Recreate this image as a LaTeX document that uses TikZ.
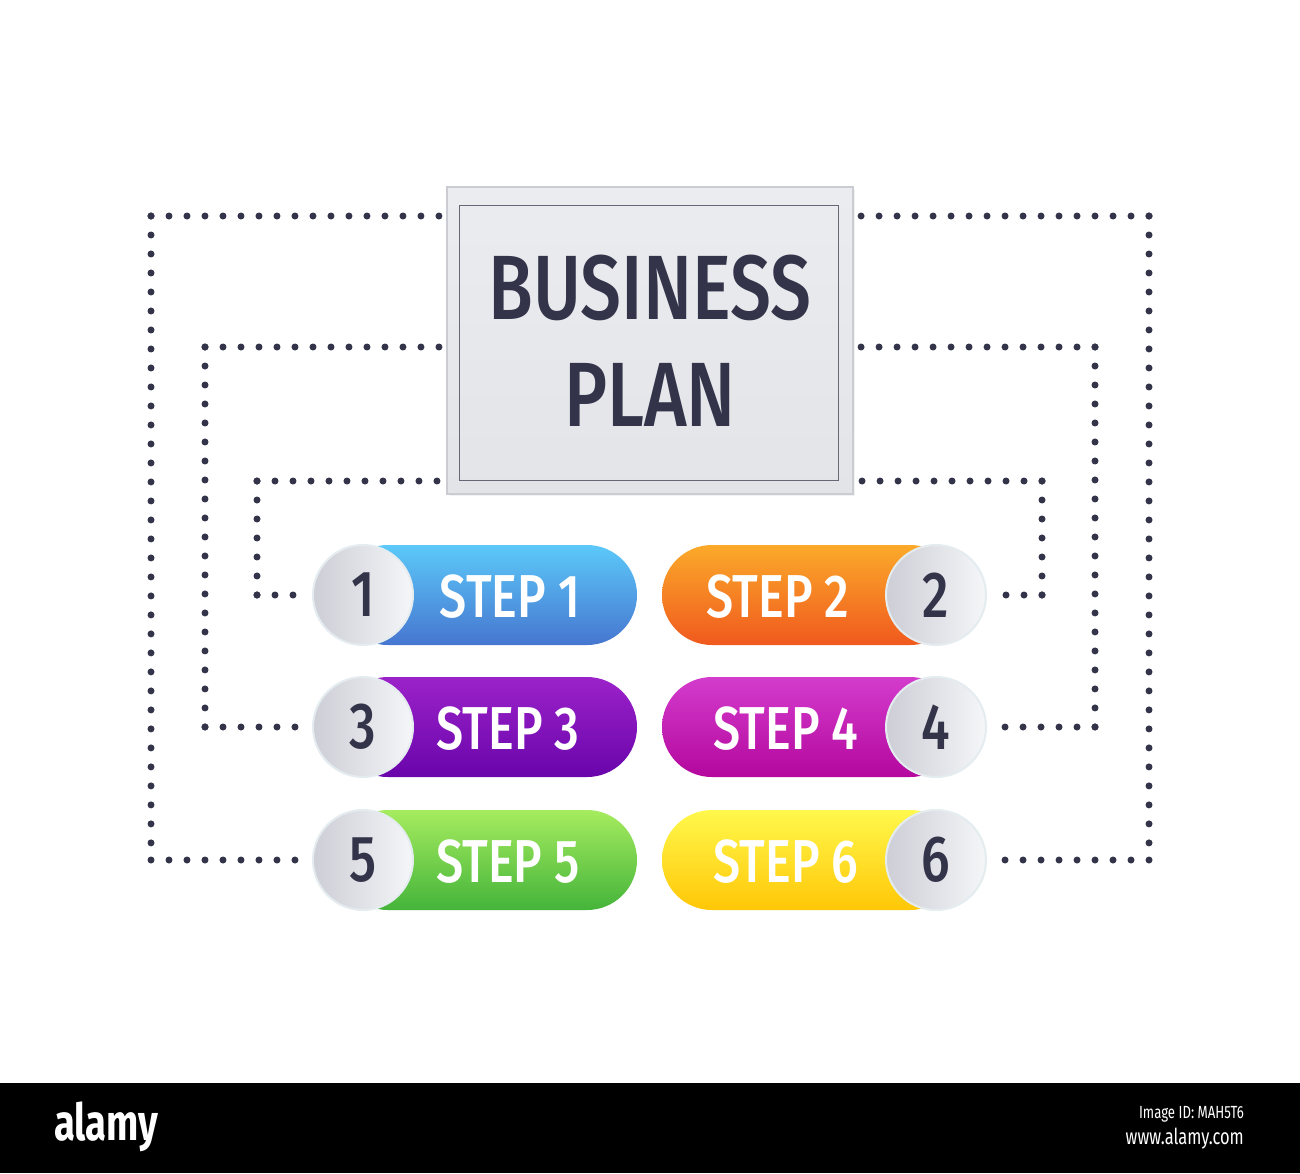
\documentclass[tikz,border=0pt]{standalone}
\usepackage{fontspec}
\usepackage{tikz}
\usetikzlibrary{shadows}
\newfontfamily\planfont{Fira Sans Medium}[FakeStretch=0.8]
\newfontfamily\markfont{Fira Sans}[FakeStretch=0.75]
\definecolor{ink}{HTML}{33344A}
\definecolor{boxtop}{HTML}{EBECEF}
\definecolor{boxbot}{HTML}{E3E4E8}
\definecolor{boxedge}{HTML}{CBCCD1}
\definecolor{discdark}{HTML}{CDCED6}
\definecolor{disclight}{HTML}{F5F6F8}
\definecolor{discrim}{HTML}{E4ECF0}
\definecolor{blueT}{HTML}{5CC9F9}
\definecolor{blueB}{HTML}{4676D0}
\definecolor{orangeT}{HTML}{FBAA2A}
\definecolor{orangeB}{HTML}{F0591E}
\definecolor{purpleT}{HTML}{9C22C9}
\definecolor{purpleB}{HTML}{6905AB}
\definecolor{pinkT}{HTML}{D33CCC}
\definecolor{pinkB}{HTML}{B4079E}
\definecolor{greenT}{HTML}{A6EC5F}
\definecolor{greenB}{HTML}{44B43A}
\definecolor{yellowT}{HTML}{FFF84C}
\definecolor{yellowB}{HTML}{FFC707}

\begin{document}
\begin{tikzpicture}[x=0.02cm,y=-0.02cm,
	hdots/.style={ink,line width=0.14cm,line cap=round,dash pattern=on 0pt off 0.36cm},
	vdots/.style={ink,line width=0.14cm,line cap=round,dash pattern=on 0pt off 0.38cm},
	pill/.style={rounded corners=1cm},
	disc/.style={circle,minimum size=2cm,inner sep=0pt,left color=discdark,right color=disclight,
		draw=discrim,line width=0.04cm,text=ink,font=\planfont\fontsize{37}{37}\selectfont},
	steptext/.style={text=white,font=\planfont\fontsize{34.5}{34.5}\selectfont}]
	\useasboundingbox (0,0) rectangle (1300,1173);
	\fill[white] (0,0) rectangle (1300,1083);

	\node[draw=boxedge,line width=0.03cm,top color=boxtop,bottom color=boxbot,
		minimum width=8.12cm,minimum height=6.14cm,inner sep=0pt,align=center,text=ink,
		font=\planfont\fontsize{52}{61}\selectfont,
		drop shadow={opacity=0.1,shadow xshift=0.04cm,shadow yshift=-0.04cm}]
		(plan) at (650,340.5) {BUSINESS\\PLAN};
	\draw[ink!75,line width=0.02cm] (459,205) rectangle (838,480);

	\shade[pill,top color=blueT,bottom color=blueB] (338,545) rectangle (637,645);
	\shade[pill,top color=orangeT,bottom color=orangeB] (662,545) rectangle (960,645);
	\shade[pill,top color=purpleT,bottom color=purpleB] (338,677) rectangle (637,777);
	\shade[pill,top color=pinkT,bottom color=pinkB] (662,677) rectangle (960,777);
	\shade[pill,top color=greenT,bottom color=greenB] (338,810) rectangle (637,910);
	\shade[pill,top color=yellowT,bottom color=yellowB] (662,810) rectangle (960,910);

	\node[disc] (c1) at (363,595) {1};
	\node[disc] (c2) at (936,595) {2};
	\node[disc] (c3) at (363,727) {3};
	\node[disc] (c4) at (936,727) {4};
	\node[disc] (c5) at (363,860) {5};
	\node[disc] (c6) at (936,860) {6};

	\node[steptext] (t1) at (510,597) {STEP 1};
	\node[steptext] (t2) at (778,597) {STEP 2};
	\node[steptext] (t3) at (508,729) {STEP 3};
	\node[steptext] (t4) at (786,729) {STEP 4};
	\node[steptext] (t5) at (508,862) {STEP 5};
	\node[steptext] (t6) at (786,862) {STEP 6};

	\coordinate (l1) at (257,481);
	\coordinate (l3) at (205,347);
	\coordinate (l5) at (151,216);
	\coordinate (r2) at (1042,481);
	\coordinate (r4) at (1095,347);
	\coordinate (r6) at (1149,216);

	\draw[hdots,shorten >=0.14cm] (l1) -- (plan.west |- l1);
	\draw[vdots] (l1) -- (l1 |- c1);
	\draw[hdots,shorten >=0.3cm] (l1 |- c1) -- (c1.west);

	\draw[hdots,shorten >=0.14cm] (l3) -- (plan.west |- l3);
	\draw[vdots] (l3) -- (l3 |- c3);
	\draw[hdots,shorten >=0.3cm] (l3 |- c3) -- (c3.west);

	\draw[hdots,shorten >=0.14cm] (l5) -- (plan.west |- l5);
	\draw[vdots] (l5) -- (l5 |- c5);
	\draw[hdots,shorten >=0.3cm] (l5 |- c5) -- (c5.west);

	\draw[hdots,shorten >=0.14cm] (r2) -- (plan.east |- r2);
	\draw[vdots] (r2) -- (r2 |- c2);
	\draw[hdots,shorten >=0.3cm] (r2 |- c2) -- (c2.east);

	\draw[hdots,shorten >=0.14cm] (r4) -- (plan.east |- r4);
	\draw[vdots] (r4) -- (r4 |- c4);
	\draw[hdots,shorten >=0.3cm] (r4 |- c4) -- (c4.east);

	\draw[hdots,shorten >=0.14cm] (r6) -- (plan.east |- r6);
	\draw[vdots] (r6) -- (r6 |- c6);
	\draw[hdots,shorten >=0.3cm] (r6 |- c6) -- (c6.east);

	\fill[black] (0,1083) rectangle (1300,1173);
	\node[white,anchor=base west,font=\markfont\bfseries\fontsize{29}{29}\selectfont] (logo) at (48,1140) {alamy};
	\node[white,anchor=base east,font=\markfont\fontsize{10}{10}\selectfont] (imgid) at (1250,1118) {Image ID: MAH5T6};
	\node[white,anchor=base east,font=\markfont\fontsize{12.5}{12.5}\selectfont] (site) at (1250,1144) {www.alamy.com};
\end{tikzpicture}
\end{document}
